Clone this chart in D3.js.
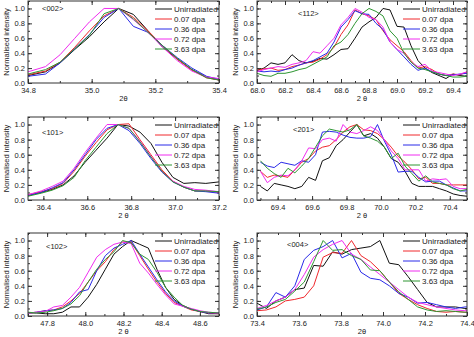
<!DOCTYPE html>
<html><head><meta charset="utf-8">
<script src="https://cdn.jsdelivr.net/npm/d3@7"></script>
<style>
body{margin:0;background:#fff}
svg{display:block}
text{font-family:"Liberation Sans",Arial,sans-serif}
</style></head><body>
<svg id="c" width="474" height="337"></svg>
<script>
// ---------- data ----------
const seriesNames = ["Unirradiated", "0.07 dpa", "0.36 dpa", "0.72 dpa", "3.63 dpa"];
const yTicks = [0.0, 0.2, 0.4, 0.6, 0.8, 1.0];

// <002>
const theta002 = [34.80,34.855,34.901,34.947,34.993,35.039,35.085,35.131,35.177,35.223,35.269,35.315,35.361,35.40];
const i002_un  = [0.10,0.15,0.27,0.45,0.62,0.82,1.00,0.92,0.70,0.48,0.32,0.18,0.08,0.04];
const i002_007 = [0.11,0.16,0.28,0.48,0.70,0.90,1.00,0.88,0.70,0.50,0.32,0.17,0.07,0.04];
const i002_036 = [0.09,0.12,0.27,0.46,0.65,0.88,1.00,0.76,0.68,0.50,0.34,0.20,0.09,0.05];
const i002_072 = [0.15,0.22,0.38,0.60,0.82,1.00,1.00,0.85,0.68,0.48,0.30,0.16,0.08,0.06];
const i002_363 = [0.12,0.18,0.28,0.46,0.64,0.93,1.00,0.86,0.68,0.50,0.33,0.18,0.07,0.04];
const ticks002 = [34.8, 35.0, 35.2, 35.4];

// <112>
const theta112 = [68.00,68.05,68.10,68.15,68.20,68.25,68.30,68.35,68.40,68.45,68.50,68.55,68.60,68.65,68.70,68.75,68.80,68.85,68.90,68.95,69.00,69.05,69.10,69.15,69.20,69.25,69.30,69.35,69.40,69.45,69.50];
const i112_un  = [0.17,0.20,0.27,0.25,0.27,0.38,0.30,0.27,0.29,0.33,0.32,0.38,0.45,0.46,0.60,0.75,0.82,0.88,1.00,0.98,0.76,0.75,0.50,0.30,0.20,0.14,0.10,0.06,0.12,0.10,0.09];
const i112_007 = [0.17,0.19,0.20,0.17,0.18,0.22,0.24,0.27,0.28,0.32,0.38,0.48,0.65,0.78,0.98,0.93,0.90,0.85,0.70,0.58,0.50,0.42,0.30,0.20,0.22,0.18,0.12,0.10,0.12,0.11,0.15];
const i112_036 = [0.16,0.15,0.16,0.15,0.18,0.20,0.24,0.27,0.30,0.35,0.40,0.55,0.75,0.85,0.97,0.93,0.92,0.80,0.72,0.55,0.45,0.35,0.25,0.17,0.20,0.15,0.12,0.10,0.11,0.12,0.13];
const i112_072 = [0.15,0.18,0.20,0.22,0.21,0.25,0.27,0.30,0.42,0.40,0.50,0.60,0.78,0.88,1.00,0.95,0.88,0.85,0.75,0.55,0.45,0.40,0.28,0.22,0.25,0.16,0.14,0.12,0.10,0.12,0.15];
const i112_363 = [0.13,0.10,0.09,0.13,0.13,0.15,0.18,0.20,0.25,0.30,0.35,0.50,0.55,0.65,0.80,0.93,1.00,0.96,0.90,0.70,0.60,0.40,0.28,0.20,0.18,0.15,0.12,0.10,0.08,0.08,0.09];
const ticks112 = [68.0, 68.2, 68.4, 68.6, 68.8, 69.0, 69.2, 69.4];

// <101>
const theta101 = [36.33,36.39,36.44,36.49,36.54,36.59,36.64,36.69,36.74,36.79,36.84,36.89,36.94,36.99,37.04,37.09,37.14,37.20];
const i101_un  = [0.06,0.10,0.14,0.20,0.32,0.50,0.66,0.82,1.00,0.98,0.90,0.75,0.50,0.30,0.22,0.23,0.22,0.24];
const i101_007 = [0.07,0.11,0.15,0.22,0.38,0.58,0.76,0.93,1.00,1.01,0.80,0.60,0.40,0.25,0.17,0.12,0.12,0.10];
const i101_036 = [0.06,0.10,0.16,0.23,0.40,0.60,0.80,0.95,1.00,0.92,0.75,0.55,0.37,0.24,0.17,0.12,0.11,0.09];
const i101_072 = [0.07,0.12,0.18,0.25,0.42,0.63,0.82,1.00,1.00,0.95,0.78,0.58,0.38,0.25,0.18,0.14,0.13,0.11];
const i101_363 = [0.05,0.09,0.13,0.19,0.30,0.52,0.70,0.88,1.00,0.95,0.77,0.57,0.38,0.24,0.17,0.12,0.12,0.11];
const ticks101 = [36.4, 36.6, 36.8, 37.0, 37.2];

// <201>
const theta201 = [69.30,69.34,69.38,69.42,69.46,69.50,69.54,69.58,69.62,69.66,69.70,69.74,69.78,69.82,69.86,69.90,69.94,69.98,70.02,70.06,70.10,70.14,70.18,70.22,70.26,70.30,70.34,70.38,70.42,70.46,70.50];
const i201_un  = [0.18,0.12,0.22,0.20,0.18,0.15,0.18,0.30,0.26,0.52,0.56,0.72,0.80,0.90,1.00,0.85,0.88,0.82,0.70,0.55,0.50,0.38,0.22,0.18,0.18,0.18,0.15,0.12,0.08,0.06,0.05];
const i201_007 = [0.38,0.30,0.33,0.32,0.30,0.40,0.50,0.55,0.65,0.70,0.72,0.80,0.90,0.97,1.00,0.93,0.92,0.88,0.80,0.70,0.58,0.50,0.40,0.28,0.30,0.22,0.22,0.20,0.20,0.20,0.20];
const i201_036 = [0.50,0.45,0.43,0.50,0.48,0.46,0.52,0.50,0.60,0.90,0.91,0.90,0.86,0.83,0.82,0.82,0.84,1.00,0.78,0.60,0.37,0.38,0.38,0.30,0.24,0.25,0.25,0.20,0.16,0.12,0.12];
const i201_072 = [0.38,0.23,0.30,0.33,0.32,0.40,0.52,0.69,0.68,0.80,0.82,0.78,1.00,0.90,0.88,0.92,0.97,0.92,0.80,0.65,0.55,0.40,0.40,0.40,0.25,0.28,0.27,0.28,0.18,0.15,0.15];
const i201_363 = [0.52,0.42,0.35,0.30,0.42,0.36,0.45,0.55,0.70,0.85,0.94,0.92,0.90,0.93,1.00,0.85,0.82,0.78,0.70,0.55,0.62,0.45,0.35,0.25,0.32,0.24,0.22,0.20,0.15,0.12,0.14];
const ticks201 = [69.4, 69.6, 69.8, 70.0, 70.2, 70.4];

// <102>
const theta102 = [47.70,47.745,47.79,47.835,47.88,47.925,47.97,48.015,48.06,48.105,48.15,48.195,48.24,48.285,48.33,48.375,48.42,48.465,48.51,48.555,48.60,48.645,48.70];
const i102_un  = [0.04,0.04,0.03,0.03,0.05,0.12,0.12,0.25,0.42,0.62,0.82,0.92,1.00,0.95,0.90,0.62,0.38,0.22,0.14,0.09,0.06,0.03,0.03];
const i102_007 = [0.04,0.05,0.07,0.08,0.12,0.20,0.30,0.45,0.60,0.72,0.88,0.98,0.98,0.80,0.62,0.45,0.30,0.18,0.13,0.08,0.06,0.04,0.03];
const i102_036 = [0.04,0.05,0.07,0.08,0.10,0.18,0.32,0.35,0.60,0.80,0.90,0.95,1.00,0.82,0.65,0.48,0.32,0.20,0.13,0.09,0.06,0.04,0.04];
const i102_072 = [0.04,0.05,0.06,0.12,0.14,0.25,0.38,0.58,0.78,0.88,0.95,0.98,0.96,0.70,0.57,0.42,0.28,0.16,0.13,0.10,0.07,0.05,0.04];
const i102_363 = [0.05,0.04,0.05,0.07,0.10,0.16,0.27,0.45,0.62,0.75,0.85,1.00,0.97,0.82,0.75,0.58,0.38,0.25,0.14,0.09,0.06,0.05,0.04];
const ticks102 = [47.8, 48.0, 48.2, 48.4, 48.6];

// <004>
const theta004 = [73.40,73.445,73.49,73.535,73.58,73.625,73.67,73.715,73.76,73.805,73.85,73.895,73.94,73.985,74.03,74.075,74.12,74.165,74.21,74.255,74.30,74.345,74.39,74.40];
const i004_un  = [0.17,0.10,0.20,0.25,0.35,0.37,0.67,0.66,0.85,0.82,0.88,0.90,0.92,1.00,0.70,0.68,0.52,0.35,0.18,0.12,0.12,0.12,0.10,0.10];
const i004_007 = [0.07,0.08,0.12,0.20,0.22,0.25,0.40,0.78,0.84,0.83,1.00,0.80,0.72,0.60,0.45,0.30,0.22,0.15,0.10,0.06,0.05,0.06,0.05,0.05];
const i004_036 = [0.08,0.12,0.31,0.25,0.40,0.75,0.87,0.92,1.00,0.77,0.83,0.58,0.50,0.48,0.40,0.30,0.25,0.17,0.18,0.15,0.12,0.10,0.12,0.12];
const i004_072 = [0.10,0.14,0.20,0.25,0.35,0.55,0.78,0.88,0.95,1.00,0.82,0.75,0.65,0.55,0.45,0.35,0.25,0.18,0.15,0.12,0.10,0.08,0.07,0.07];
const i004_363 = [0.09,0.12,0.18,0.22,0.33,0.45,0.72,1.00,0.87,0.88,0.80,0.75,0.61,0.60,0.45,0.32,0.22,0.12,0.08,0.06,0.07,0.06,0.05,0.05];
const ticks004 = [73.4, 73.6, 73.8, 74.0, 74.2, 74.4];

// ---------- layout / style ----------
const colors = ["#111111", "#f0282d", "#2a2ae8", "#f02cf0", "#2e9632"];
const cols = [{x0: 28, x1: 219}, {x0: 257, x1: 467}];
const rows = [{y0: 1, y1: 83, title: 101}, {y0: 117, y1: 200, title: 218}, {y0: 233, y1: 316, title: 334}];

const panels = [
  {label: "<002>", c: 0, r: 0, x: theta002, ys: [i002_un,i002_007,i002_036,i002_072,i002_363], dom: [34.8,35.4], ticks: ticks002, xt: "2θ", lab: [42, 11]},
  {label: "<112>", c: 1, r: 0, x: theta112, ys: [i112_un,i112_007,i112_036,i112_072,i112_363], dom: [68.0,69.5], ticks: ticks112, xt: "2 θ", lab: [298, 16]},
  {label: "<101>", c: 0, r: 1, x: theta101, ys: [i101_un,i101_007,i101_036,i101_072,i101_363], dom: [36.33,37.2], ticks: ticks101, xt: "2 θ", lab: [42, 135]},
  {label: "<201>", c: 1, r: 1, x: theta201, ys: [i201_un,i201_007,i201_036,i201_072,i201_363], dom: [69.28,70.5], ticks: ticks201, xt: "2 θ", lab: [293, 132]},
  {label: "<102>", c: 0, r: 2, x: theta102, ys: [i102_un,i102_007,i102_036,i102_072,i102_363], dom: [47.7,48.7], ticks: ticks102, xt: "2 θ", lab: [46, 249]},
  {label: "<004>", c: 1, r: 2, x: theta004, ys: [i004_un,i004_007,i004_036,i004_072,i004_363], dom: [73.4,74.4], ticks: ticks004, xt: "2θ", lab: [287, 247]}
];

const svg = d3.select("#c");
const fs = 7.5;

panels.forEach((p, pi) => {
  const col = cols[p.c], row = rows[p.r];
  const x = d3.scaleLinear().domain(p.dom).range([col.x0, col.x1]);
  const y = d3.scaleLinear().domain([0, 1.1]).range([row.y1, row.y0]);
  const g = svg.append("g");

  const cid = "clip" + pi;
  svg.append("clipPath").attr("id", cid).append("rect")
    .attr("x", col.x0).attr("y", row.y0).attr("width", col.x1 - col.x0).attr("height", row.y1 - row.y0);

  const step = p.ticks[1] - p.ticks[0];
  const minorX = d3.range(Math.ceil(p.dom[0] / (step / 2) - 1e-6), Math.floor(p.dom[1] / (step / 2) + 1e-6) + 1).map(k => k * step / 2);
  const minorY = d3.range(0, 12).map(k => k * 0.1);

  const axB = d3.axisBottom(x).tickValues(p.ticks).tickFormat(d3.format(".1f")).tickSizeInner(-4).tickSizeOuter(0).tickPadding(4.5);
  const axBm = d3.axisBottom(x).tickValues(minorX).tickFormat("").tickSizeInner(-2).tickSizeOuter(0);
  const axT = d3.axisTop(x).tickValues(p.ticks).tickFormat("").tickSizeInner(-4).tickSizeOuter(0);
  const axTm = d3.axisTop(x).tickValues(minorX).tickFormat("").tickSizeInner(-2).tickSizeOuter(0);
  const axL = d3.axisLeft(y).tickValues(yTicks).tickFormat(d3.format(".1f")).tickSizeInner(-4).tickSizeOuter(0).tickPadding(3);
  const axLm = d3.axisLeft(y).tickValues(minorY).tickFormat("").tickSizeInner(-2).tickSizeOuter(0);
  const axR = d3.axisRight(y).tickValues(yTicks).tickFormat("").tickSizeInner(-4).tickSizeOuter(0);
  const axRm = d3.axisRight(y).tickValues(minorY).tickFormat("").tickSizeInner(-2).tickSizeOuter(0);

  const put = (ax, tr) => {
    const a = g.append("g").attr("transform", tr).call(ax);
    a.select(".domain").remove();
    a.selectAll("line").attr("stroke", "#333");
    a.selectAll("text").attr("font-size", fs).attr("fill", "#222").attr("font-family", "Liberation Sans, Arial, sans-serif");
    return a;
  };
  put(axB, `translate(0,${row.y1})`);
  put(axBm, `translate(0,${row.y1})`);
  put(axT, `translate(0,${row.y0})`);
  put(axTm, `translate(0,${row.y0})`);
  put(axL, `translate(${col.x0},0)`);
  put(axLm, `translate(${col.x0},0)`);
  put(axR, `translate(${col.x1},0)`);
  put(axRm, `translate(${col.x1},0)`);

  const line = d3.line().x(d => x(d[0])).y(d => y(d[1]));
  const lg = g.append("g").attr("clip-path", `url(#${cid})`);
  p.ys.forEach((vals, si) => {
    lg.append("path").datum(p.x.map((t, i) => [t, vals[i]]))
      .attr("d", line).attr("fill", "none").attr("stroke", colors[si])
      .attr("stroke-width", 1).attr("stroke-linejoin", "round");
  });

  g.append("rect").attr("x", col.x0).attr("y", row.y0)
    .attr("width", col.x1 - col.x0).attr("height", row.y1 - row.y0)
    .attr("fill", "none").attr("stroke", "#333").attr("stroke-width", 1);

  g.append("text").attr("x", p.lab[0]).attr("y", p.lab[1]).attr("font-size", fs).attr("fill", "#222").text(p.label);

  const lx = col.x1 - 64, ly = row.y0 + 8;
  seriesNames.forEach((nm, si) => {
    const yy = ly + si * 10;
    g.append("line").attr("x1", lx).attr("x2", lx + 17).attr("y1", yy).attr("y2", yy)
      .attr("stroke", colors[si]).attr("stroke-width", 1);
    g.append("text").attr("x", lx + 19).attr("y", yy + 2.7).attr("font-size", fs + 0.5).attr("fill", "#222").text(nm);
  });

  g.append("text").attr("x", (col.x0 + col.x1) / 2).attr("y", row.title)
    .attr("text-anchor", "middle").attr("font-size", fs).attr("fill", "#222").text(p.xt);
  const yc = (row.y0 + row.y1) / 2;
  const yx = col.x0 - 19;
  g.append("text").attr("transform", `translate(${yx},${yc}) rotate(-90)`)
    .attr("text-anchor", "middle").attr("font-size", fs).attr("fill", "#222").text("Normalised intensity");
});
</script>
</body></html>
